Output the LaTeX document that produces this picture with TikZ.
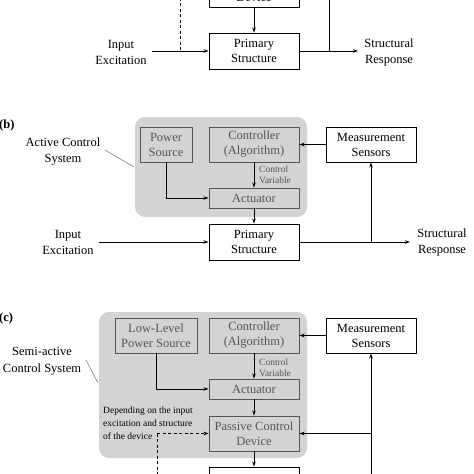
\documentclass[tikz,border=0pt]{standalone}
\usepackage{fontspec}
\setmainfont{Liberation Serif}
\usetikzlibrary{arrows.meta}
\definecolor{panelgray}{HTML}{D3D3D3}
\definecolor{ingray}{HTML}{555555}
\begin{document}
\begin{tikzpicture}[x=1pt, y=-1pt,
    block/.style={draw, line width=0.9pt, minimum width=90pt, minimum height=35pt, align=center, inner sep=0pt, fill=white, font=\fontsize{12.5}{15}\selectfont},
    inblock/.style={block, draw=ingray, text=ingray, fill=panelgray},
    panel/.style={fill=panelgray, rounded corners=10pt},
    conn/.style={line width=0.9pt},
    arr/.style={conn, -{Stealth[length=5pt, width=3.5pt]}},
    dash line/.style={conn, dash pattern=on 3pt off 2.5pt},
    lbl/.style={align=center, inner sep=0pt, font=\fontsize{12.5}{16}\selectfont},
    tag/.style={anchor=west, inner sep=0pt, font=\bfseries\fontsize{12.5}{15}\selectfont},
    small/.style={align=left, anchor=west, inner sep=0pt, font=\fontsize{9.5}{11}\selectfont},
    lead/.style={draw=gray, line width=0.6pt}]
    \useasboundingbox (0,0) rectangle (474,474);
    \clip (0,0) rectangle (474,474);

    % (a) passive control, lower part
    \node (aDev) at (254,-10.5) [block] {Passive Control\\Device};
    \node (aPrim) at (254,51) [block, minimum height=36pt] {Primary\\Structure};
    \node (aIn) at (121,52) [lbl] {Input\\Excitation};
    \node (aOut) at (389,52) [lbl] {Structural\\Response};
    \coordinate (aStart) at (152,51);
    \coordinate (aEnd) at (358,51);
    \coordinate (aTap) at (329,51);
    \coordinate (aUp) at (329,-30);
    \coordinate (aDash) at (180,-30);
    \coordinate (aJoin) at (180,51);
    \draw[arr] (aDev) -- (aPrim);
    \draw[arr] (aStart) -- (aPrim.west);
    \draw[arr] (aPrim.east) -- (aEnd);
    \draw[conn] (aTap) -- (aUp);
    \draw[dash line] (aDash) -- (aJoin);

    % (b) active control
    \node (bTag) at (-1,125) [tag] {(b)};
    \fill[panel] (135,117) rectangle (307,217);
    \node (bPow) at (166,144.5) [inblock, minimum width=52pt] {Power\\Source};
    \node (bCtrl) at (254,144.5) [inblock] {Controller\\(Algorithm)};
    \node (bMeas) at (371,144.5) [block] {Measurement\\Sensors};
    \node (bAct) at (254,198) [inblock, minimum height=20pt] {Actuator};
    \node (bPrim) at (254,242) [block, minimum height=36pt] {Primary\\Structure};
    \node (bVar) at (259,174.5) [small, text=ingray] {Control\\Variable};
    \node (bIn) at (68,242) [lbl] {Input\\Excitation};
    \node (bOut) at (442,242) [lbl] {Structural\\Response};
    \node (bSys) at (63,152) [lbl] {Active Control\\System};
    \coordinate (bStart) at (99,242);
    \coordinate (bEnd) at (410,242);
    \coordinate (bTap) at (371,242);
    \coordinate (bLeadA) at (105,150);
    \coordinate (bLeadB) at (134,167);
    \draw[lead] (bLeadA) -- (bLeadB);
    \draw[arr] (bMeas.west) -- (bCtrl.east);
    \draw[arr] (bCtrl) -- (bAct);
    \draw[arr] (bPow.south) |- (bAct.west);
    \draw[arr] (bAct) -- (bPrim);
    \draw[arr] (bStart) -- (bPrim.west);
    \draw[arr] (bPrim.east) -- (bEnd);
    \draw[arr] (bTap) -- (bMeas.south);

    % (c) semi-active control, upper part
    \node (cTag) at (-1,318) [tag] {(c)};
    \fill[panel] (99,312) rectangle (307,458);
    \node (cPow) at (156,335.5) [inblock, minimum width=82pt] {Low-Level\\Power Source};
    \node (cCtrl) at (254,335.5) [inblock] {Controller\\(Algorithm)};
    \node (cMeas) at (371,335.5) [block] {Measurement\\Sensors};
    \node (cAct) at (254,389) [inblock, minimum height=20pt] {Actuator};
    \node (cPass) at (254,433.5) [inblock] {Passive Control\\Device};
    \node (cPrim) at (254,485) [block, minimum height=36pt] {};
    \node (cVar) at (259,367.5) [small, text=ingray] {Control\\Variable};
    \node (cNote) at (103,423) [small, font=\fontsize{9.5}{13}\selectfont] {Depending on the input\\excitation and structure\\of the device};
    \node (cSys) at (42,361.5) [lbl, font=\fontsize{12.5}{17}\selectfont] {Semi-active\\Control System};
    \coordinate (cTap) at (371,485);
    \coordinate (cBranch) at (371,433.5);
    \coordinate (cDash) at (157,433.5);
    \coordinate (cJoin) at (157,485);
    \coordinate (cLeadA) at (86,360);
    \coordinate (cLeadB) at (98,383);
    \draw[lead] (cLeadA) -- (cLeadB);
    \draw[arr] (cMeas.west) -- (cCtrl.east);
    \draw[arr] (cCtrl) -- (cAct);
    \draw[arr] (cPow.south) |- (cAct.west);
    \draw[arr] (cAct) -- (cPass);
    \draw[arr] (cPass) -- (cPrim);
    \draw[arr] (cTap) -- (cMeas.south);
    \draw[arr] (cBranch) -- (cPass.east);
    \draw[dash line, -{Stealth[length=5pt, width=3.5pt]}] (cDash) -- (cPass.west);
    \draw[dash line] (cDash) -- (cJoin);
\end{tikzpicture}
\end{document}
